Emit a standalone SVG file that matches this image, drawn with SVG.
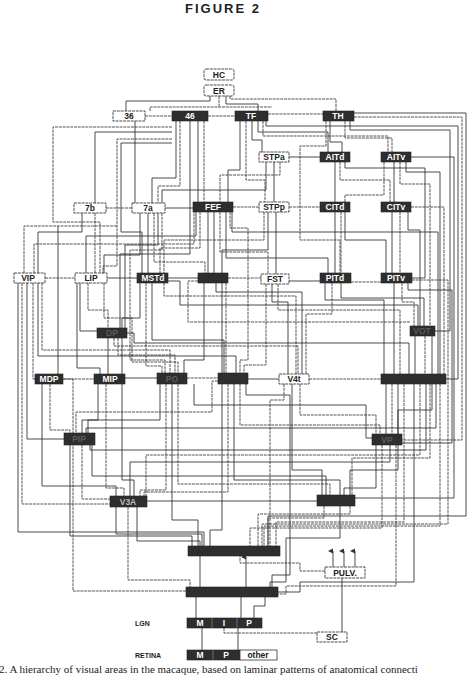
<svg xmlns="http://www.w3.org/2000/svg" width="474" height="681" viewBox="0 0 474 681">
<defs>
<marker id="ah" markerWidth="6" markerHeight="6" refX="3" refY="5" orient="auto" markerUnits="userSpaceOnUse">
<path d="M0.5,5 L3,0 L5.5,5 Z" fill="#333"/>
</marker>
<style>
.c{fill:none;stroke:#2a2a2a;stroke-width:0.85}
.d{fill:none;stroke:#383838;stroke-width:0.85;stroke-dasharray:3 0.8}
.a{fill:none;stroke:#2a2a2a;stroke-width:0.85;marker-end:url(#ah)}
.w{fill:#fff;stroke:#3a3a3a;stroke-width:0.9;stroke-dasharray:3 0.8}
.k{fill:#2e2e2e;stroke:#222;stroke-width:0.6}
.tw{font-family:"Liberation Sans",Arial,sans-serif;font-weight:bold;font-size:8.5px;fill:#fff;text-anchor:middle}
.tk{font-family:"Liberation Sans",Arial,sans-serif;font-weight:bold;font-size:8.5px;fill:#222;text-anchor:middle}
.tf{font-family:"Liberation Sans",Arial,sans-serif;font-weight:bold;font-size:8.5px;fill:#5c5c5c;text-anchor:middle}
.lb{font-family:"Liberation Sans",Arial,sans-serif;font-weight:bold;font-size:7px;fill:#222}
</style>
</defs>
<rect width="474" height="681" fill="#fff"/>
<text x="223" y="13" font-family="Liberation Sans,Arial,sans-serif" font-weight="bold" font-size="13" letter-spacing="2" text-anchor="middle" fill="#222">FIGURE  2</text>

<g id="connectors">
<path class="c" d="M210 96 V101 H126 V111"/>
<path class="d" d="M230 96 V99 H336 V111"/>
<path class="c" d="M226 96 V104 H258 V111"/>
<path class="d" d="M219 96 V107 M150 111 V107 H272"/>
<path class="d" d="M145 116 H172"/>
<path class="d" d="M208 116 H235"/>
<path class="d" d="M268 114 H323"/>
<path class="c" d="M176 121 V178 H152 V203"/>
<path class="d" d="M180 121 V186 H158 V203"/>
<path class="c" d="M198 121 V202"/>
<path class="d" d="M204 121 V202"/>
<path class="c" d="M190 121 V254 H120 V328"/>
<path class="d" d="M172 127 H53 V222 H100 V273"/>
<path class="c" d="M172 132 H95 V203"/>
<path class="d" d="M172 139 H117 V266 H103 V273"/>
<path class="c" d="M172 143 H121 V232 H142 V273"/>
<path class="c" d="M135 121 V203"/>
<path class="c" d="M240 121 V170 H228 V202"/>
<path class="d" d="M246 121 V180 H265 V202"/>
<path class="c" d="M252 121 V140 H262 V152"/>
<path class="c" d="M258 121 V132 H328 V152"/>
<path class="d" d="M263 121 V136 H388 V152"/>
<path class="c" d="M266 121 V126 H458 V379 H446"/>
<path class="c" d="M330 121 V142 H342 V152"/>
<path class="d" d="M345 121 V138 H392 V152"/>
<path class="c" d="M354 113 H466 V516 H268 V546"/>
<path class="d" d="M354 117 H462 V440 H402"/>
<path class="c" d="M350 121 V130 H450 V331 H435"/>
<path class="d" d="M326 121 V146 H300 V240 H340 V273"/>
<path class="c" d="M289 157 H320"/>
<path class="c" d="M274 162 V202"/>
<path class="d" d="M280 162 V175 H220 V202"/>
<path class="c" d="M266 162 V190 H162 V203"/>
<path class="c" d="M335 162 V202"/>
<path class="d" d="M340 162 V180 H390 V202"/>
<path class="c" d="M345 162 V168 H425 V278 H412"/>
<path class="c" d="M394 162 V202"/>
<path class="d" d="M400 162 V184 H430 V326"/>
<path class="c" d="M406 162 V172 H440 V374"/>
<path class="d" d="M384 162 V195 H345 V202"/>
<path class="c" d="M411 157 H454 V498 H355"/>
<path class="d" d="M106 208 H132"/>
<path class="c" d="M165 208 H193"/>
<path class="d" d="M233 207 H259"/>
<path class="d" d="M289 207 H320"/>
<path class="c" d="M82 213 V232 H38 V273"/>
<path class="d" d="M95 213 V273"/>
<path class="c" d="M140 213 V255 H104 V273"/>
<path class="c" d="M148 213 V273"/>
<path class="d" d="M154 213 V262 H205 V273"/>
<path class="c" d="M158 213 V245 H125 V328"/>
<path class="d" d="M162 213 V250 H130 V360 H165 V373"/>
<path class="c" d="M196 212 V236 H86 V273"/>
<path class="d" d="M200 212 V248 H160 V273"/>
<path class="c" d="M208 212 V273"/>
<path class="c" d="M214 212 V273"/>
<path class="d" d="M220 212 V252 H268 V274"/>
<path class="c" d="M226 212 V258 H328 V273"/>
<path class="d" d="M230 212 V228 H248 V360 H240 V373"/>
<path class="c" d="M232 212 V232 H438 V374"/>
<path class="d" d="M34 273 V244 H194 V212"/>
<path class="c" d="M276 212 V274"/>
<path class="d" d="M264 212 V240 H164 V273"/>
<path class="c" d="M268 212 V250 H222 V273"/>
<path class="c" d="M335 212 V273"/>
<path class="d" d="M341 212 V273"/>
<path class="c" d="M345 212 V240 H386 V273"/>
<path class="c" d="M392 212 V273"/>
<path class="d" d="M400 212 V273"/>
<path class="c" d="M408 212 V230 H420 V326"/>
<path class="d" d="M411 207 H444 V374"/>
<path class="d" d="M45 278 H75"/>
<path class="c" d="M107 278 H137"/>
<path class="c" d="M168 278 H198"/>
<path class="d" d="M228 278 H261"/>
<path class="c" d="M289 281 H320"/>
<path class="d" d="M351 282 H381"/>
<path class="d" d="M24 273 V226 H117"/>
<path class="c" d="M58 226 V374"/>
<path class="c" d="M18 283 V532 H204 V546"/>
<path class="d" d="M22 283 V504 H110"/>
<path class="c" d="M27 283 V439 H64"/>
<path class="d" d="M33 283 V379 H35"/>
<path class="c" d="M38 283 V356 H236 V373"/>
<path class="d" d="M42 283 V350 H170 V373"/>
<path class="c" d="M80 283 V331 H97"/>
<path class="d" d="M88 283 V310 H108 V328"/>
<path class="c" d="M77 283 V368 H100 V374"/>
<path class="d" d="M104 283 V318 H132 V362 H178 V373"/>
<path class="c" d="M140 283 V318 H122 V328"/>
<path class="d" d="M146 283 V366 H162 V373"/>
<path class="c" d="M152 283 V340 H224 V373"/>
<path class="d" d="M164 283 V296 H296 V374"/>
<path class="c" d="M168 281 H180 V305 H418 V326"/>
<path class="d" d="M198 281 H188 V322 H410"/>
<path class="c" d="M204 283 V360 H184 V373"/>
<path class="c" d="M222 283 V373"/>
<path class="d" d="M226 283 V373"/>
<path class="c" d="M216 283 V292 H302 V374"/>
<path class="d" d="M266 284 V365 H244 V373"/>
<path class="c" d="M272 284 V302 H288 V374"/>
<path class="d" d="M278 284 V310 H400 V374"/>
<path class="c" d="M325 283 V300 H384 V374"/>
<path class="d" d="M332 283 V314 H306 V374"/>
<path class="c" d="M341 283 V298 H424 V326"/>
<path class="c" d="M394 283 V374"/>
<path class="d" d="M402 283 V302 H414 V326"/>
<path class="c" d="M408 283 V290 H452 V443 H402"/>
<path class="d" d="M412 280 H448 V524 H262 V546"/>
<path class="c" d="M108 338 V374"/>
<path class="d" d="M118 338 V355 H175 V373"/>
<path class="c" d="M122 338 V480 H134 V496"/>
<path class="d" d="M114 338 V346 H298 V374"/>
<path class="c" d="M127 333 H134 V343 H409 V374"/>
<path class="c" d="M415 336 V374"/>
<path class="d" d="M425 336 V374"/>
<path class="c" d="M432 336 V410 H398 V434"/>
<path class="d" d="M63 379 H94"/>
<path class="c" d="M125 378 H157"/>
<path class="d" d="M187 378 H218"/>
<path class="c" d="M248 379 H279"/>
<path class="d" d="M309 379 H381"/>
<path class="c" d="M42 384 V486 H116 V496"/>
<path class="d" d="M50 384 V430 H70 V433"/>
<path class="c" d="M98 384 V420 H88 V433"/>
<path class="d" d="M106 384 V488 H124 V496"/>
<path class="c" d="M160 384 V420 H82 V433"/>
<path class="d" d="M166 384 V490 H140 V496"/>
<path class="c" d="M172 384 V520 H198 V546"/>
<path class="d" d="M178 384 V484 H330 V495"/>
<path class="c" d="M194 384 V405 H366 V438 H372"/>
<path class="d" d="M218 381 H212 V412 H76 V433"/>
<path class="c" d="M86 433 V428 H436 V384"/>
<path class="c" d="M222 384 V530 H210 V546"/>
<path class="d" d="M228 384 V492 H144 V496"/>
<path class="c" d="M234 384 V480 H340 V495"/>
<path class="d" d="M240 384 V425 H380 V434"/>
<path class="c" d="M246 384 V395 H290 V575 H272 V587"/>
<path class="d" d="M284 384 V400 H270 V546"/>
<path class="c" d="M292 384 V470 H322 V495"/>
<path class="d" d="M300 384 V415 H376 V434"/>
<path class="c" d="M386 384 V434"/>
<path class="d" d="M392 384 V434"/>
<path class="c" d="M398 384 V470 H350 V495"/>
<path class="d" d="M404 384 V522 H276 V546"/>
<path class="c" d="M414 384 V582 H300 V592 H278"/>
<path class="d" d="M420 384 V455 H146 V496"/>
<path class="c" d="M426 384 V450 H90 V445"/>
<path class="d" d="M440 384 V526 H264 V546"/>
<path class="d" d="M352 495 V458 H430 V384"/>
<path class="c" d="M70 445 V536 H192 V546"/>
<path class="d" d="M82 445 V499 H110"/>
<path class="c" d="M92 445 V476 H326 V495"/>
<path class="c" d="M376 445 V488 H344 V495"/>
<path class="d" d="M382 445 V528 H250 V546"/>
<path class="c" d="M390 445 V462 H130 V496"/>
<path class="d" d="M396 445 V586 H286 V594 H278"/>
<path class="c" d="M116 507 V534 H202 V546"/>
<path class="d" d="M128 507 V580 H190 V587"/>
<path class="c" d="M137 507 V541 H200 V546"/>
<path class="c" d="M147 501 H317"/>
<path class="d" d="M324 506 V518 H268 V546"/>
<path class="c" d="M340 506 V538 H286 V582 H270 V587"/>
<path class="d" d="M350 506 V514 H258 V546"/>
<path class="d" d="M186 591 H73 V379 H63"/>
<path class="c" d="M200 587 V556"/>
<path class="a" d="M246 587 V557"/>
<path class="c" d="M196 618 V597"/>
<path class="c" d="M241 618 V597"/>
<path class="c" d="M254 618 V606 H265 V597"/>
<path class="c" d="M202 650 V628"/>
<path class="c" d="M238 650 V628"/>
<path class="d" d="M224 628 V633 H317"/>
<path class="c" d="M342 632 V578"/>
<path class="d" d="M325 571 H300 V563 H240 V556"/>
<path class="a" d="M333 567 V551"/>
<path class="a" d="M344 567 V551"/>
<path class="a" d="M355 567 V551"/>
</g>

<g id="HC"><rect class="w" x="204" y="69" width="30" height="11" rx="2"/><text class="tk" x="219" y="78">HC</text></g>
<g id="ER"><rect class="w" x="204" y="85" width="30" height="11" rx="2"/><text class="tk" x="219" y="94">ER</text></g>
<g id="a36"><rect class="w" x="113" y="111" width="32" height="10"/><text class="tk" x="129" y="119">36</text></g>
<g id="a46"><rect class="k" x="172" y="111" width="36" height="10"/><text class="tw" x="190" y="119">46</text></g>
<g id="TF"><rect class="k" x="235" y="111" width="33" height="10"/><text class="tw" x="251" y="119">TF</text></g>
<g id="TH"><rect class="k" x="323" y="111" width="31" height="10"/><text class="tw" x="338" y="119">TH</text></g>
<g id="STPa"><rect class="w" x="259" y="152" width="30" height="10"/><text class="tk" x="274" y="160">STPa</text></g>
<g id="AITd"><rect class="k" x="320" y="152" width="30" height="10"/><text class="tw" x="335" y="160">AITd</text></g>
<g id="AITv"><rect class="k" x="381" y="152" width="30" height="10"/><text class="tw" x="396" y="160">AITv</text></g>
<g id="a7b"><rect class="w" x="74" y="203" width="32" height="10"/><text class="tk" x="90" y="211">7b</text></g>
<g id="a7a"><rect class="w" x="132" y="203" width="33" height="10"/><text class="tk" x="148" y="211">7a</text></g>
<g id="FEF"><rect class="k" x="193" y="202" width="40" height="10"/><text class="tw" x="213" y="210">FEF</text></g>
<g id="STPp"><rect class="w" x="259" y="202" width="30" height="10"/><text class="tk" x="274" y="210">STPp</text></g>
<g id="CITd"><rect class="k" x="320" y="202" width="30" height="10"/><text class="tw" x="335" y="210">CITd</text></g>
<g id="CITv"><rect class="k" x="381" y="202" width="30" height="10"/><text class="tw" x="396" y="210">CITv</text></g>
<g id="VIP"><rect class="w" x="14" y="273" width="31" height="10"/><text class="tk" x="28" y="281">VIP</text></g>
<g id="LIP"><rect class="w" x="75" y="273" width="32" height="10"/><text class="tk" x="91" y="281">LIP</text></g>
<g id="MSTd"><rect class="k" x="137" y="273" width="31" height="10"/><text class="tw" x="153" y="281">MSTd</text></g>
<g id="MSTl"><rect class="k" x="198" y="273" width="30" height="10"/></g>
<g id="FST"><rect class="w" x="261" y="274" width="28" height="10"/><text class="tk" x="275" y="282">FST</text></g>
<g id="PITd"><rect class="k" x="320" y="273" width="31" height="10"/><text class="tw" x="335" y="281">PITd</text></g>
<g id="PITv"><rect class="k" x="381" y="273" width="31" height="10"/><text class="tw" x="396" y="281">PITv</text></g>
<g id="DP"><rect class="k" x="97" y="328" width="30" height="10"/><text class="tf" x="112" y="336">DP</text></g>
<g id="VOT"><rect class="k" x="410" y="326" width="25" height="10"/><text class="tf" x="422" y="334">VOT</text></g>
<g id="MDP"><rect class="k" x="35" y="374" width="28" height="10"/><text class="tw" x="49" y="382">MDP</text></g>
<g id="MIP"><rect class="k" x="94" y="374" width="31" height="10"/><text class="tw" x="110" y="382">MIP</text></g>
<g id="PO"><rect class="k" x="157" y="373" width="30" height="11"/><text class="tf" x="172" y="382">PO</text></g>
<g id="MT"><rect class="k" x="218" y="373" width="30" height="11"/></g>
<g id="V4t"><rect class="w" x="279" y="374" width="30" height="10"/><text class="tk" x="294" y="382">V4t</text></g>
<g id="V4"><rect class="k" x="381" y="374" width="65" height="10"/></g>
<g id="PIP"><rect class="k" x="64" y="433" width="31" height="12"/><text class="tf" x="79" y="442">PIP</text></g>
<g id="VP"><rect class="k" x="372" y="434" width="30" height="11"/><text class="tf" x="387" y="443">VP</text></g>
<g id="V3A"><rect class="k" x="110" y="496" width="37" height="11"/><text class="tf" x="128" y="505" style="fill:#bbb">V3A</text></g>
<g id="V3"><rect class="k" x="317" y="495" width="38" height="11"/></g>
<g id="V2"><rect class="k" x="188" y="546" width="92" height="10"/></g>
<g id="PULV"><rect class="w" x="325" y="567" width="40" height="11"/><text class="tk" x="345" y="576">PULV.</text></g>
<g id="V1"><rect class="k" x="186" y="587" width="92" height="10"/></g>
<g id="LGN">
<text class="lb" x="135" y="626">LGN</text>
<rect class="k" x="187" y="618" width="75" height="10"/>
<line x1="212" y1="618" x2="212" y2="628" stroke="#999" stroke-width="0.6"/>
<line x1="237" y1="618" x2="237" y2="628" stroke="#999" stroke-width="0.6"/>
<text class="tw" x="200" y="626">M</text><text class="tw" x="224" y="626">I</text><text class="tw" x="249" y="626">P</text>
</g>
<g id="SC"><rect class="w" x="317" y="632" width="30" height="10"/><text class="tk" x="332" y="640">SC</text></g>
<g id="RETINA">
<text class="lb" x="135" y="658">RETINA</text>
<rect class="k" x="187" y="650" width="53" height="10"/>
<line x1="213" y1="650" x2="213" y2="660" stroke="#999" stroke-width="0.6"/>
<rect x="240" y="650" width="37" height="10" fill="#fff" stroke="#333" stroke-width="0.8"/>
<text class="tw" x="200" y="658">M</text><text class="tw" x="226" y="658">P</text><text class="tk" x="258" y="658">other</text>
</g>
<text x="-1" y="673" font-family="Liberation Serif,Times New Roman,serif" font-size="11" fill="#222">2. A hierarchy of visual areas in the macaque, based on laminar patterns of anatomical connecti</text>
</svg>
